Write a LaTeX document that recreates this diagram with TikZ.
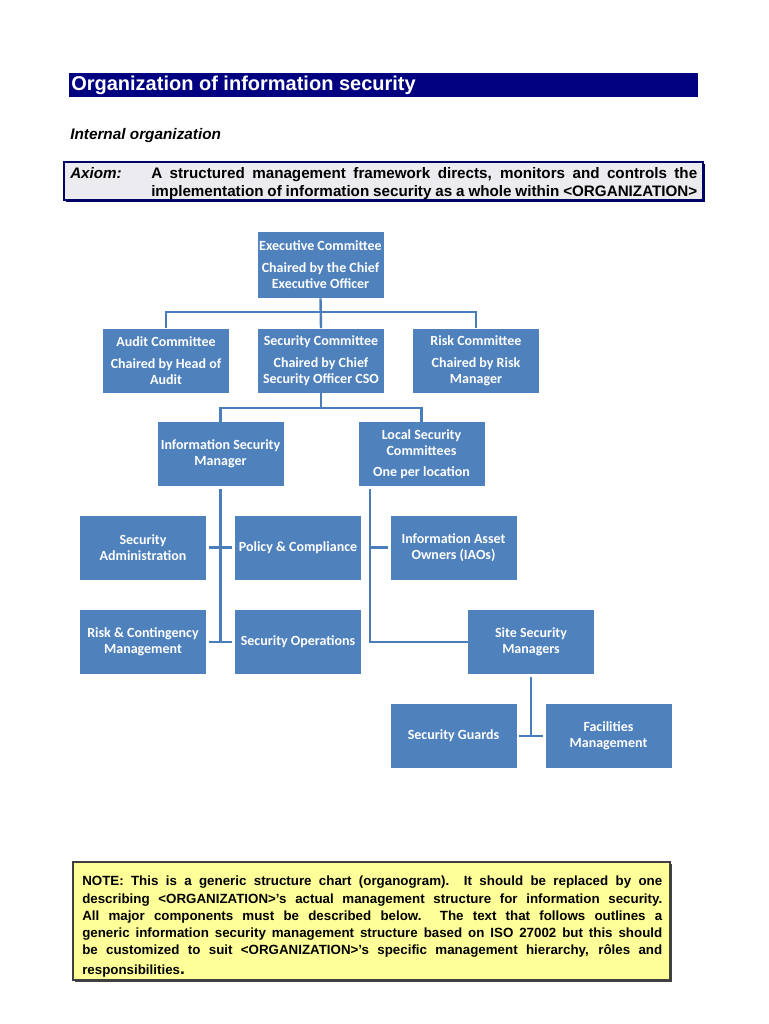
\documentclass[tikz,border=0pt]{standalone}
\usepackage{fontspec}
\setmainfont{Liberation Sans}
\newfontfamily\calfont{Carlito}
\definecolor{boxblue}{HTML}{4F81BD}
\definecolor{lineblue}{HTML}{4A7EBB}
\definecolor{navy}{HTML}{000080}
\definecolor{axgray}{HTML}{EBEBF0}
\definecolor{noteyellow}{HTML}{FFFF99}
\tikzset{
  orgbox/.style={fill=boxblue, draw=none, text=white, align=center, inner sep=0pt,
    minimum width=94.5pt, minimum height=48pt,
    font=\calfont\bfseries\fontsize{10.5}{12}\selectfont},
  conn/.style={draw=lineblue, line width=1.8pt},
}
\begin{document}
\begin{tikzpicture}[x=0.75pt,y=-0.75pt]
\fill[white] (0,0) rectangle (768,1024);
\useasboundingbox (0,0) rectangle (768,1024);

% title
\fill[navy] (69,73) rectangle (698,97);
\node[anchor=west, text=white, inner sep=0pt, font=\bfseries\fontsize{15}{17}\selectfont] (title) at (71,85.5) {Organization of information security};

\node[anchor=west, inner sep=0pt, font=\bfseries\itshape\fontsize{11.5}{13}\selectfont] (sub) at (70,136) {Internal organization};

% axiom
\fill[navy!80!black] (66,164) rectangle (705,202);
\filldraw[fill=axgray, draw=navy!80!black, line width=0.8pt] (64,162) rectangle (703,200);
\node[anchor=base west, inner sep=0pt, font=\bfseries\itshape\fontsize{11.4}{13.5}\selectfont] (axl) at (70,178.5) {Axiom:};
\node[anchor=north west, inner sep=0pt, text width=409.5pt, align=justify, font=\bfseries\fontsize{11.4}{13.5}\selectfont] (axt) at (151,167) {A structured management framework directs, monitors and controls the\linebreak implementation of information security as a whole within <ORGANIZATION>};

% org chart
\node[orgbox, minimum height=49.5pt] (exec) at (320.5,265) {Executive Committee\\[4.5pt]Chaired by the Chief\\Executive Officer};
\node[orgbox] (audit) at (166,360.5) {Audit Committee\\[4.5pt]Chaired by Head of\\Audit};
\node[orgbox] (secc) at (321,360.5) {Security Committee\\[4.5pt]Chaired by Chief\\Security Officer CSO};
\node[orgbox] (risk) at (476,360.5) {Risk Committee\\[4.5pt]Chaired by Risk\\Manager};
\node[orgbox] (ism) at (220.5,454) {Information Security\\Manager};
\node[orgbox] (lsc) at (421.5,454) {Local Security\\Committees\\[4pt]One per location};
\node[orgbox] (sadm) at (143,547.5) {Security\\Administration};
\node[orgbox] (pol) at (298,547.5) {Policy \& Compliance};
\node[orgbox] (iao) at (453.5,547.5) {Information Asset\\Owners (IAOs)};
\node[orgbox] (rcm) at (143,642) {Risk \& Contingency\\Management};
\node[orgbox] (sops) at (298,642) {Security Operations};
\node[orgbox] (ssm) at (531,642) {Site Security\\Managers};
\node[orgbox] (sg) at (453.5,736) {Security Guards};
\node[orgbox] (fm) at (608.5,736) {Facilities\\Management};

\draw[conn] (exec.south) -- (secc.north);
\draw[conn] (audit.north) -- ++(0,-16) -| (risk.north);
\draw[conn] (secc.south) -- ++(0,16);
\draw[conn] (ism.north) -- ++(0,-14) -| (lsc.north);
\coordinate (iv) at ([yshift=-2pt]ism.south);
\draw[conn] (iv) -- (iv |- rcm.east);
\draw[conn] ([xshift=2pt]sadm.east) -- ([xshift=-2pt]pol.west);
\draw[conn] ([xshift=2pt]rcm.east) -- ([xshift=-2pt]sops.west);
\coordinate (lv) at ([xshift=9pt,yshift=-2pt]lsc.south west);
\draw[conn] (lv) |- (ssm.west);
\draw[conn] ([xshift=-1.5pt]iao.west) -- (iao.west -| lv);
\coordinate (sv) at ([yshift=-2pt]ssm.south);
\draw[conn] (sv) -- (sv |- sg.east);
\draw[conn] ([xshift=1.5pt]sg.east) -- ([xshift=-1.5pt]fm.west);

% note
\fill[black!75] (75,864) rectangle (672,982);
\filldraw[fill=noteyellow, draw=black!75, line width=0.8pt] (73,862) rectangle (670,980);
\node[anchor=north west, inner sep=0pt, text width=435pt, align=justify, font=\bfseries\fontsize{10}{12.8}\selectfont] (note) at (82,876) {NOTE: This is a generic structure chart (organogram).\ \ It should be replaced by one\linebreak describing <ORGANIZATION>'s actual management structure for information security.\linebreak All major components must be described below.\ \ The text that follows outlines a\linebreak generic information security management structure based on ISO 27002 but this should\linebreak be customized to suit <ORGANIZATION>'s specific management hierarchy, rôles and\linebreak \rule{0pt}{12.3pt}responsibilities{\fontsize{13}{16}\selectfont.}};
\end{tikzpicture}
\end{document}
